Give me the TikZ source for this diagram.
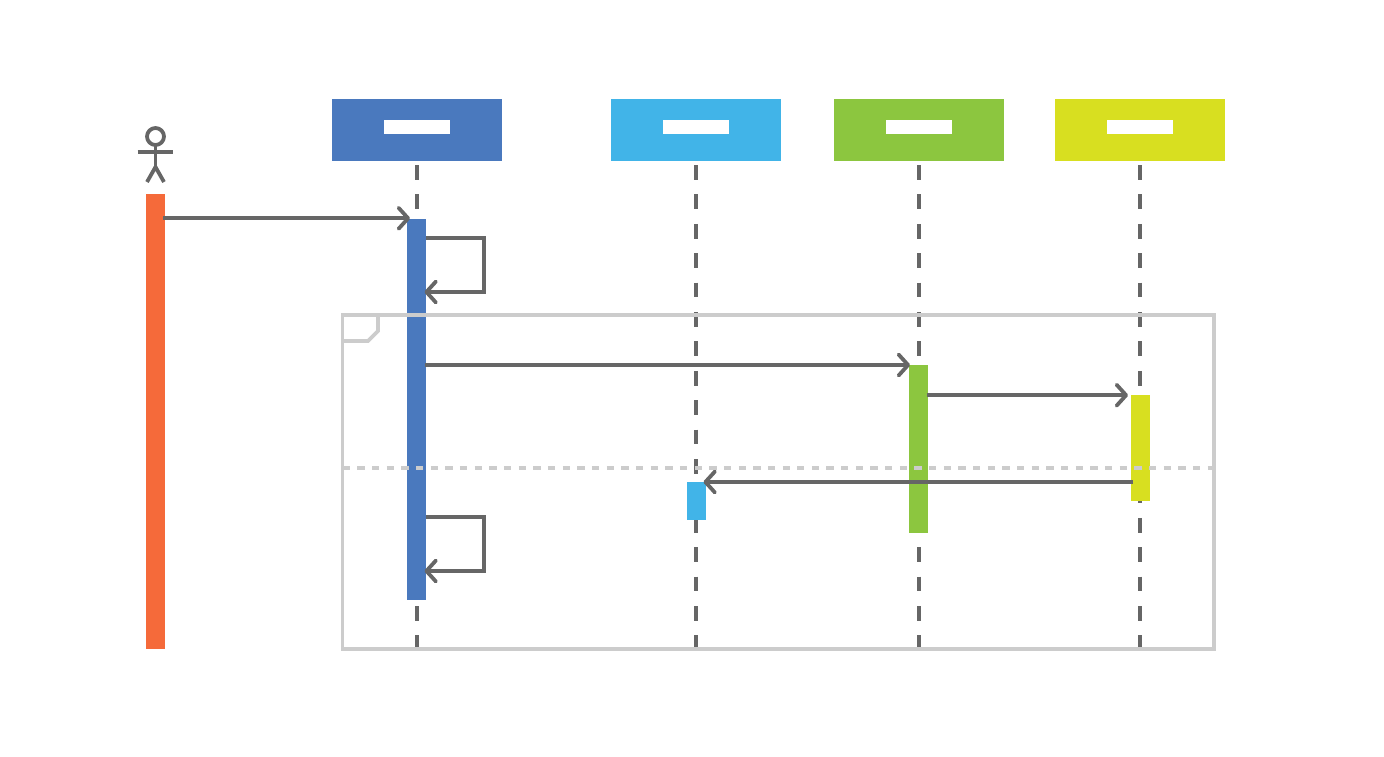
\documentclass[tikz,border=0pt]{standalone}
\usetikzlibrary{arrows.meta}
\definecolor{ink}{HTML}{666666}
\definecolor{framegray}{HTML}{CCCCCC}
\definecolor{cOrange}{HTML}{F56A3A}
\definecolor{cBlue}{HTML}{4A79BE}
\definecolor{cSky}{HTML}{41B4E8}
\definecolor{cGreen}{HTML}{8CC63F}
\definecolor{cYellow}{HTML}{D8DF20}
\tikzset{
  bar/.style={fill=#1,draw=none,inner sep=0pt,minimum width=19pt,outer sep=0pt},
  headbox/.style={fill=#1,draw=none,inner sep=0pt,minimum width=170pt,minimum height=62pt,outer sep=0pt},
  labelbox/.style={fill=white,draw=none,inner sep=0pt,minimum width=66.5pt,minimum height=14.5pt,outer sep=0pt},
  lifeline/.style={draw=ink,line width=3.7pt,dash pattern=on 14.7pt off 14.7pt},
  msg/.style={draw=ink,line width=4pt,line join=miter,-{Straight Barb[length=9.5pt,width=21pt,line width=3.8pt,round]}},
  frameline/.style={draw=framegray,line width=3.7pt},
  actorline/.style={draw=ink,line width=3.8pt}
}
\begin{document}
\begin{tikzpicture}[x=1pt,y=-1pt]
\useasboundingbox (0,0) rectangle (1384,756);
% heads
\node[headbox=cBlue]   (hA) at (417,130) {};
\node[headbox=cSky]    (hB) at (696,130) {};
\node[headbox=cGreen]  (hC) at (919,130) {};
\node[headbox=cYellow] (hD) at (1140.2,130) {};
\node[labelbox] (lA) at (416.9,127.2) {};
\node[labelbox] (lB) at (696,127.2) {};
\node[labelbox] (lC) at (918.9,127.2) {};
\node[labelbox] (lD) at (1140.2,127.2) {};
% lifeline ends
\coordinate (eA) at (417,649);
\coordinate (eB) at (696,649);
\coordinate (eC) at (919,649);
\coordinate (eD) at (1140.2,649);
\path[lifeline] ([yshift=-4pt]hA.south) -- (eA);
\path[lifeline] ([yshift=-4pt]hB.south) -- (eB);
\path[lifeline] ([yshift=-4pt]hC.south) -- (eC);
\path[lifeline] ([yshift=-4pt]hD.south) -- (eD);
% activation bars
\node[bar=cOrange,minimum height=455.5pt] (bO) at (155.5,421.5) {};
\node[bar=cBlue,minimum height=381.5pt]   (bA) at (416.7,409.25) {};
\node[bar=cSky,minimum height=37.5pt]     (bB) at (696.2,500.75) {};
\node[bar=cGreen,minimum height=168pt]    (bC) at (918.7,449) {};
\node[bar=cYellow,minimum height=106.5pt] (bD) at (1140.3,447.75) {};
% actor
\node[circle,actorline,minimum size=17pt,inner sep=0pt,outer sep=0pt] (head) at (155.5,136.5) {};
\coordinate (armL) at (137.5,152);
\coordinate (armR) at (173,152);
\coordinate (hip) at (155.5,167);
\coordinate (legL) at (147,182);
\coordinate (legR) at (164,182);
\draw[actorline] (head.south) -- (hip);
\draw[actorline] (armL) -- (armR);
\draw[actorline,line join=miter] (legL) -- (hip) -- (legR);
% frame
\coordinate (f1) at (342.5,315);
\coordinate (f2) at (1214,649);
\coordinate (t1) at (378,315);
\coordinate (t2) at (378,331);
\coordinate (t3) at (368,341);
\coordinate (t4) at (342.5,341);
\coordinate (d1) at (342.7,468);
\coordinate (d2) at (1214,468);
\draw[frameline] (f1) rectangle (f2);
\draw[frameline] (t1) -- (t2) -- (t3) -- (t4);
\draw[draw=framegray,line width=3.9pt,dash pattern=on 7.33pt off 7.33pt] (d1) -- (d2);
% messages
\coordinate (m1s) at (163,218.3);
\coordinate (m1e) at (410,218.3);
\draw[msg] (m1s) -- (m1e);
\coordinate (s1a) at (426,237.5);
\coordinate (s1b) at (484.3,237.5);
\coordinate (s1c) at (484.3,292);
\coordinate (s1d) at (424.5,292);
\draw[msg] (s1a) -- (s1b) -- (s1c) -- (s1d);
\coordinate (m2s) at (425,365);
\coordinate (m2e) at (910,365);
\draw[msg] (m2s) -- (m2e);
\coordinate (m3s) at (927,395.2);
\coordinate (m3e) at (1128,395.2);
\draw[msg] (m3s) -- (m3e);
\coordinate (m4s) at (1133,482);
\coordinate (m4e) at (703.5,482);
\draw[msg] (m4s) -- (m4e);
\coordinate (s2a) at (426,516.5);
\coordinate (s2b) at (484.3,516.5);
\coordinate (s2c) at (484.3,571);
\coordinate (s2d) at (424.5,571);
\draw[msg] (s2a) -- (s2b) -- (s2c) -- (s2d);
\end{tikzpicture}
\end{document}
